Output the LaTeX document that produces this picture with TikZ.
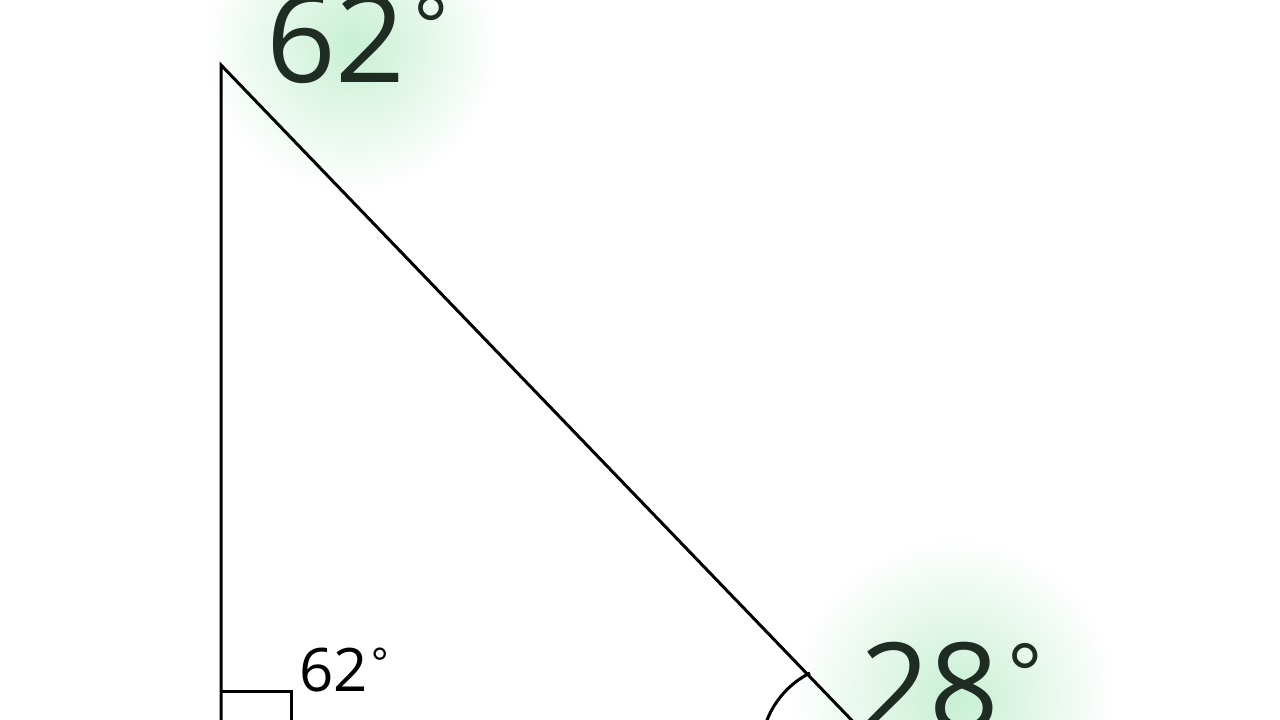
\documentclass[tikz,border=0pt]{standalone}
\usepackage{fontspec}
\usetikzlibrary{fadings}
\setmainfont{Open Sans}
\definecolor{inkgreen}{RGB}{30,44,36}
\definecolor{glow}{RGB}{200,240,212}
\tikzfading[name=glowfade, inner color=transparent!0, outer color=transparent!100]
\newcommand{\degsign}[1]{\kern0.06em\raisebox{#1}{\scalebox{0.68}{°}}}
\begin{document}
\begin{tikzpicture}[x=1pt,y=-1pt,
  edge/.style={line width=3pt,black,line join=miter},
  biglabel/.style={text=inkgreen,font=\fontsize{122}{122}\selectfont,inner sep=0pt,anchor=base west},
  smalllabel/.style={text=black,font=\fontsize{60}{60}\selectfont,inner sep=0pt,anchor=base west},
  halo/.style={fill=glow,path fading=glowfade}]
\useasboundingbox (0,0) rectangle (1280,720);
\clip (0,0) rectangle (1280,720);
\fill[white] (0,0) rectangle (1280,720);
% glows
\fill[halo] (352,45) circle[radius=145];
\fill[halo] (955,700) circle[radius=160];
% vertices
\coordinate (A) at (221,65);
\coordinate (B) at (221,780);
\coordinate (C) at (890,760);
\coordinate (S1) at (221,691);
\coordinate (S2) at (291,691);
\coordinate (S3) at (291,780);
\coordinate (P) at (810,673);
% triangle
\draw[edge] (B) -- (A) -- (C);
\draw[edge] (S1) -- (S2) -- (S3);
\draw[edge] (P) arc[start angle=243.4,end angle=170,radius=89];
% labels
\node[biglabel] (topangle) at (266,82) {62\degsign{0.22em}};
\node[biglabel] (rightangle) at (860,730) {28\degsign{0.22em}};
\node[smalllabel] (smallangle) at (299,691) {62\degsign{0.22em}};
\end{tikzpicture}
\end{document}
